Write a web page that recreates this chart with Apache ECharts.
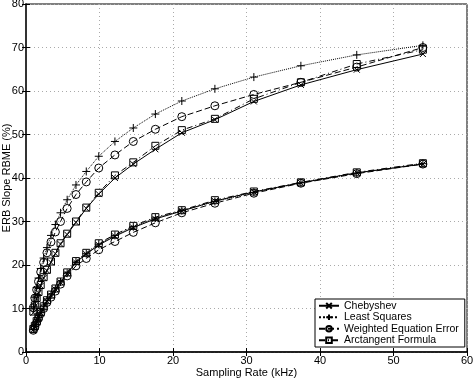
<!DOCTYPE html>
<html><head><meta charset="utf-8">
<script src="https://cdn.jsdelivr.net/npm/echarts@6/dist/echarts.min.js"></script>
<style>html,body{margin:0;padding:0;background:#fff}#c{width:474px;height:378px}</style>
</head><body><div id="c"></div>
<script>
// Sampling rates (kHz)
const rates = [1.0, 1.2, 1.45, 1.7, 2.0, 2.4, 2.85, 3.4, 4.0, 4.7, 5.6, 6.8, 8.2, 9.9, 12.1, 14.6, 17.6, 21.2, 25.7, 31.0, 37.4, 45.0, 54.0];
// Upper group
const lsHigh   = [10.4, 12.6, 14.8, 17.0, 19.2, 21.6, 24.0, 26.8, 29.3, 32.0, 35.0, 38.4, 41.5, 45.0, 48.4, 51.5, 54.7, 57.7, 60.5, 63.2, 65.8, 68.3, 70.5];
const weqHigh  = [10.2, 12.4, 14.3, 16.2, 18.4, 20.6, 22.8, 25.3, 27.6, 30.0, 33.0, 36.2, 39.1, 42.3, 45.3, 48.4, 51.2, 54.1, 56.6, 59.2, 62.0, 65.5, 70.0];
const chebHigh = [9.0, 10.5, 12.2, 13.6, 15.2, 17.0, 18.7, 20.6, 22.6, 24.8, 27.0, 29.8, 33.0, 36.3, 40.0, 43.2, 46.6, 50.4, 53.4, 57.6, 61.4, 64.9, 68.5];
const atanHigh = [9.3, 10.7, 12.4, 13.8, 15.4, 17.2, 18.9, 20.8, 22.8, 25.0, 27.2, 30.0, 33.2, 36.6, 40.6, 43.6, 47.4, 51.0, 53.6, 58.2, 62.0, 66.2, 69.5];
// Lower group
const atanLow  = [5.3, 6.0, 7.1, 8.1, 9.2, 10.5, 11.9, 13.2, 14.6, 16.2, 18.3, 20.9, 22.8, 25.0, 27.0, 29.0, 31.0, 32.6, 34.9, 36.9, 39.0, 41.3, 43.4];
const chebLow  = [5.1, 5.8, 6.9, 7.9, 9.0, 10.3, 11.7, 13.0, 14.4, 16.0, 18.0, 20.6, 22.5, 24.6, 26.6, 28.6, 30.6, 32.4, 34.7, 36.8, 38.9, 41.2, 43.2];
const lsLow    = [5.2, 5.9, 7.0, 8.0, 9.1, 10.4, 11.8, 13.1, 14.5, 16.1, 18.1, 20.7, 22.6, 24.8, 26.8, 28.8, 30.8, 32.5, 34.6, 36.7, 38.9, 41.1, 43.3];
const weqLow   = [5.0, 5.7, 6.7, 7.7, 8.8, 10.0, 11.4, 12.6, 14.0, 15.6, 17.5, 19.8, 21.5, 23.5, 25.4, 27.5, 29.7, 32.0, 34.2, 36.5, 38.8, 41.0, 43.2];
const names = ['Chebyshev', 'Least Squares', 'Weighted Equation Error', 'Arctangent Formula'];
const xTicks = [0, 10, 20, 30, 40, 50, 60];
const yTicks = [0, 10, 20, 30, 40, 50, 60, 70, 80];

const X = 'path://M0,0L10,10M10,0L0,10';
const PLUS = 'path://M5,0L5,10M0,5L10,5';
const styles = {
  'Chebyshev': {symbol: X, type: 'solid', size: 6},
  'Least Squares': {symbol: PLUS, type: 'dotted', size: 8},
  'Weighted Equation Error': {symbol: 'circle', type: [6, 3], size: 8},
  'Arctangent Formula': {symbol: 'rect', type: [6, 3, 1, 3], size: 7}
};
function mk(name, vals) {
  const s = styles[name];
  const hollow = (s.symbol === 'circle' || s.symbol === 'rect');
  return {
    type: 'line', name: name,
    data: rates.map((r, i) => [r, vals[i]]),
    symbol: s.symbol, symbolSize: s.size, showAllSymbol: true,
    lineStyle: {color: '#000', width: 1, type: s.type},
    itemStyle: {color: hollow ? 'rgba(255,255,255,0)' : '#000', borderColor: '#000', borderWidth: 1},
    emphasis: {disabled: true}, animation: false
  };
}
const font = 'Liberation Sans, Arial, sans-serif';
const chart = echarts.init(document.getElementById('c'), null, {renderer: 'canvas'});
chart.setOption({
  animation: false,
  grid: {left: 26, right: 7, top: 4, bottom: 26, show: true, borderColor: '#000', borderWidth: 1,
         containLabel: false, outerBoundsMode: 'none'},
  legend: {
    data: names, orient: 'vertical', left: 315, top: 299,
    backgroundColor: '#fff', borderColor: '#000', borderWidth: 1, padding: [1, 6, 1, 3],
    itemGap: 0, itemWidth: 20, itemHeight: 7,
    textStyle: {fontFamily: font, fontSize: 10.5, color: '#000', lineHeight: 11.5}
  },
  xAxis: [{
    type: 'value', min: xTicks[0], max: xTicks[xTicks.length - 1], interval: 10,
    name: 'Sampling Rate (kHz)', nameLocation: 'middle', nameGap: 15, nameMoveOverlap: false,
    nameTextStyle: {fontFamily: font, fontSize: 11, color: '#000'},
    axisLine: {lineStyle: {color: '#000', width: 1.5}},
    axisTick: {inside: true, length: 4, lineStyle: {color: '#000'}},
    axisLabel: {fontFamily: font, fontSize: 11, color: '#000', margin: 3},
    splitLine: {show: true, lineStyle: {color: '#aaa', type: [1, 3]}}
  }, {
    type: 'value', position: 'top', min: 0, max: 60, interval: 10,
    axisLine: {show: false}, axisTick: {inside: true, length: 4, lineStyle: {color: '#000'}},
    axisLabel: {show: false}, splitLine: {show: false}
  }],
  yAxis: [{
    type: 'value', min: yTicks[0], max: yTicks[yTicks.length - 1], interval: 10,
    name: 'ERB Slope RBME (%)', nameLocation: 'middle', nameGap: 14, nameMoveOverlap: false,
    nameTextStyle: {fontFamily: font, fontSize: 11, color: '#000'},
    axisLine: {show: true, lineStyle: {color: '#333', width: 2}},
    axisTick: {show: true, inside: true, length: 4, lineStyle: {color: '#000'}},
    axisLabel: {fontFamily: font, fontSize: 11, color: '#000', margin: 2},
    splitLine: {show: true, lineStyle: {color: '#aaa', type: [1, 3]}}
  }, {
    type: 'value', position: 'right', min: 0, max: 80, interval: 10,
    axisLine: {show: false}, axisTick: {show: true, inside: true, length: 4, lineStyle: {color: '#000'}},
    axisLabel: {show: false}, splitLine: {show: false}
  }],
  series: [
    mk('Chebyshev', chebHigh), mk('Least Squares', lsHigh),
    mk('Weighted Equation Error', weqHigh), mk('Arctangent Formula', atanHigh),
    mk('Chebyshev', chebLow), mk('Least Squares', lsLow),
    mk('Weighted Equation Error', weqLow), mk('Arctangent Formula', atanLow)
  ]
});
</script></body></html>
